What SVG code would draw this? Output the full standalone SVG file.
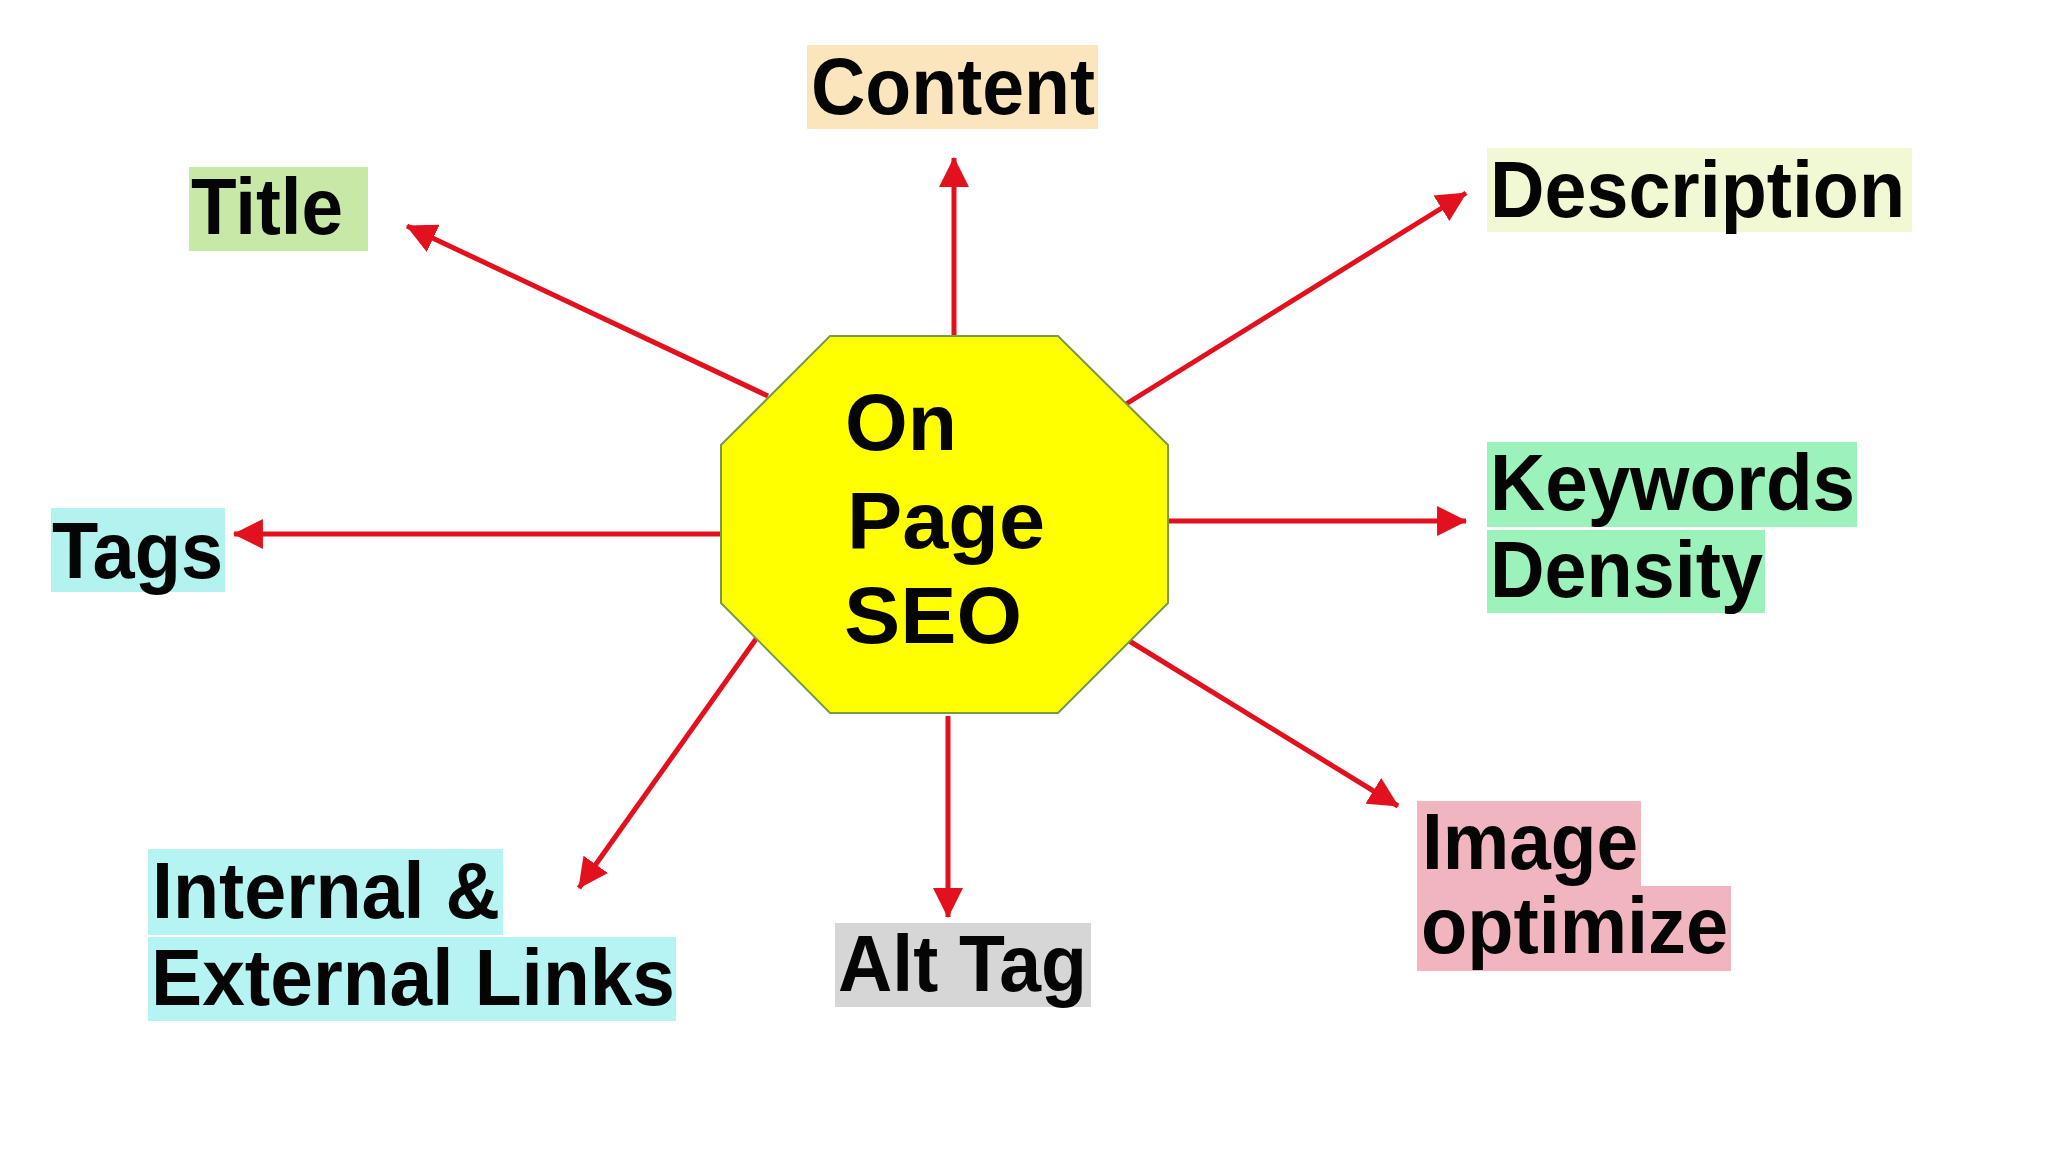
<svg xmlns="http://www.w3.org/2000/svg" width="2048" height="1152" viewBox="0 0 2048 1152">
  <defs>
    <marker id="arrow" markerUnits="userSpaceOnUse" markerWidth="30" markerHeight="30" viewBox="0 0 28 28" refX="27" refY="14" orient="auto">
      <path d="M0,0 L28,14 L0,28 Z" fill="#e3101e"/>
    </marker>
    <style>
      .lbl { font-family: "Liberation Sans", Arial, sans-serif; font-weight: bold; font-size: 80px; fill: #050505; }
      .conn { stroke: #e3101e; stroke-width: 5; fill: none; marker-end: url(#arrow); }
    </style>
  </defs>
  <rect width="2048" height="1152" fill="#ffffff"/>

  <g id="connectors">
    <line class="conn" x1="954" y1="336" x2="954" y2="158"/>
    <line class="conn" x1="768" y1="396" x2="407" y2="226"/>
    <line class="conn" x1="1126" y1="404" x2="1466" y2="193"/>
    <line class="conn" x1="1168" y1="521" x2="1466" y2="521"/>
    <line class="conn" x1="1126" y1="639" x2="1398" y2="806"/>
    <line class="conn" x1="948" y1="716" x2="948" y2="917"/>
    <line class="conn" x1="756" y1="639" x2="579" y2="888"/>
    <line class="conn" x1="721" y1="534" x2="234" y2="534"/>
  </g>

  <g id="center">
    <polygon points="830,336 1058,336 1168,445 1168,603 1058,713 830,713 721,603 721,445" fill="#ffff00" stroke="#7a9a48" stroke-width="2"/>
    <text class="lbl" x="845" y="450" textLength="112" lengthAdjust="spacingAndGlyphs">On</text>
    <text class="lbl" x="847" y="548" textLength="198" lengthAdjust="spacingAndGlyphs">Page</text>
    <text class="lbl" x="844" y="643" textLength="178" lengthAdjust="spacingAndGlyphs">SEO</text>
  </g>

  <g id="content">
    <rect x="807" y="45" width="291" height="84" fill="#fbe5bd"/>
    <text class="lbl" x="811" y="114" textLength="284" lengthAdjust="spacingAndGlyphs">Content</text>
  </g>

  <g id="title">
    <rect x="189" y="167" width="179" height="84" fill="#c8e8a8"/>
    <text class="lbl" x="191" y="234" textLength="152" lengthAdjust="spacingAndGlyphs">Title</text>
  </g>

  <g id="description">
    <rect x="1487" y="148" width="425" height="84" fill="#f1f9d4"/>
    <text class="lbl" x="1490" y="217" textLength="415" lengthAdjust="spacingAndGlyphs">Description</text>
  </g>

  <g id="keywords">
    <rect x="1487" y="442" width="370" height="85" fill="#9cf2bb"/>
    <rect x="1487" y="530" width="278" height="83" fill="#9cf2bb"/>
    <text class="lbl" x="1490" y="510" textLength="365" lengthAdjust="spacingAndGlyphs">Keywords</text>
    <text class="lbl" x="1490" y="597" textLength="273" lengthAdjust="spacingAndGlyphs">Density</text>
  </g>

  <g id="tags">
    <rect x="51" y="508" width="174" height="84" fill="#b2f3ef"/>
    <text class="lbl" x="52" y="578" textLength="171" lengthAdjust="spacingAndGlyphs">Tags</text>
  </g>

  <g id="links">
    <rect x="148" y="849" width="355" height="86" fill="#b6f4f4"/>
    <rect x="148" y="937" width="528" height="84" fill="#b6f4f4"/>
    <text class="lbl" x="152" y="918" textLength="348" lengthAdjust="spacingAndGlyphs">Internal &amp;</text>
    <text class="lbl" x="151" y="1005" textLength="524" lengthAdjust="spacingAndGlyphs">External Links</text>
  </g>

  <g id="alt-tag">
    <rect x="835" y="923" width="256" height="84" fill="#d6d6d6"/>
    <text class="lbl" x="838" y="991" textLength="249" lengthAdjust="spacingAndGlyphs">Alt Tag</text>
  </g>

  <g id="image">
    <rect x="1417" y="801" width="224" height="86" fill="#f1b5c0"/>
    <rect x="1417" y="886" width="314" height="85" fill="#f1b5c0"/>
    <text class="lbl" x="1422" y="869" textLength="216" lengthAdjust="spacingAndGlyphs">Image</text>
    <text class="lbl" x="1421" y="953" textLength="307" lengthAdjust="spacingAndGlyphs">optimize</text>
  </g>
</svg>
